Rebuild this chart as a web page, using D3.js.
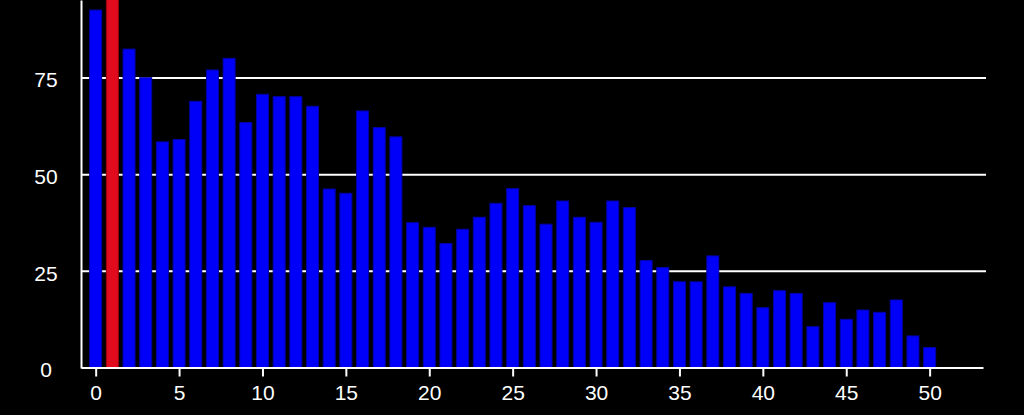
<!DOCTYPE html>
<html>
<head>
<meta charset="utf-8">
<script src="https://cdn.jsdelivr.net/npm/d3@7"></script>
<style>
  html, body { margin: 0; padding: 0; background: #000; }
  svg { display: block; }
</style>
</head>
<body>
<div id="chart"></div>
<script>
// bins along the x axis
const bins = [0, 1, 2, 3, 4, 5, 6, 7, 8, 9, 10, 11, 12, 13, 14, 15, 16, 17, 18, 19, 20,
    21, 22, 23, 24, 25, 26, 27, 28, 29, 30, 31, 32, 33, 34, 35, 36, 37, 38, 39, 40,
    41, 42, 43, 44, 45, 46, 47, 48, 49, 50]
// counts per bin (bin 1 runs off the top of the plot)
const counts = [92.6, 100, 82.5, 75.1, 58.5, 59.1, 69.0, 77.1, 80.1, 63.5, 70.8,
    70.2, 70.2, 67.7, 46.3, 45.2, 66.5, 62.2, 59.8, 37.6, 36.4,
    32.2, 35.9, 39.0, 42.6, 46.4, 42.0, 37.2, 43.2, 39.0, 37.7,
    43.2, 41.5, 27.8, 26.0, 22.3, 22.3, 29.0, 21.0, 19.3, 15.6,
    20.0, 19.3, 10.7, 16.9, 12.6, 15.0, 14.4, 17.6, 8.3, 5.3]
const highlightBin = 1
const xTicks = [0, 5, 10, 15, 20, 25, 30, 35, 40, 45, 50]
const yTicks = [0, 25, 50, 75]
const gridValues = [25, 50, 75]

const width = 1024
const height = 415
const left = 81
const right = 983
const bottom = 368
const barWidth = 0.72

const svg = d3.select('#chart').append('svg')
    .attr('width', width)
    .attr('height', height)
    .attr('font-family', '\'Liberation Sans\', Arial, sans-serif')

svg.append('rect')
    .attr('width', width)
    .attr('height', height)
    .attr('fill', '#000')

const x = d3.scaleLinear().domain([-0.88, 53.2]).range([left, right])
const y = d3.scaleLinear().domain([0, 95.2]).range([bottom, 0])

// grid lines sit behind the bars, so they only show in the gaps
svg.append('g')
    .selectAll('line').data(gridValues).enter()
    .append('line')
    .attr('x1', left)
    .attr('x2', 986)
    .attr('y1', d => y(d))
    .attr('y2', d => y(d))
    .attr('stroke', '#fff')
    .attr('stroke-width', 2)

const data = bins.map((b, i) => [b, counts[i]])

svg.append('g')
    .selectAll('rect').data(data).enter()
    .append('rect')
    .attr('x', d => x(d[0] - barWidth / 2))
    .attr('width', x(barWidth) - x(0))
    .attr('y', d => y(d[1]))
    .attr('height', d => y(0) - y(d[1]))
    .attr('fill', d => d[0] === highlightBin ? '#e00c1e' : '#0000f8')
    .attr('stroke', d => d[0] === highlightBin ? '#a0000e' : '#0000a8')
    .attr('stroke-width', 1)

// x axis
const xAxis = svg.append('g')
    .attr('transform', `translate(0,${bottom - 0.5})`)
    .call(d3.axisBottom(x).tickValues(xTicks).tickSize(9).tickSizeOuter(0).tickPadding(9))
xAxis.select('.domain').attr('stroke', '#fff').attr('stroke-width', 2)
xAxis.selectAll('.tick line').attr('stroke', '#fff').attr('stroke-width', 2)
xAxis.selectAll('.tick text')
    .attr('fill', '#fff')
    .attr('font-size', 21)
    .attr('font-family', '\'Liberation Sans\', Arial, sans-serif')

// y axis, no tick marks
const yAxis = svg.append('g')
    .attr('transform', `translate(${left},0)`)
    .call(d3.axisLeft(y).tickValues(yTicks).tickSize(0).tickSizeOuter(0))
yAxis.select('.domain').attr('stroke', '#fff').attr('stroke-width', 2)
yAxis.selectAll('.tick text')
    .attr('x', -35)
    .attr('dy', '0.42em')
    .attr('text-anchor', 'middle')
    .attr('fill', '#fff')
    .attr('font-size', 21)
    .attr('font-family', '\'Liberation Sans\', Arial, sans-serif')
</script>
</body>
</html>
